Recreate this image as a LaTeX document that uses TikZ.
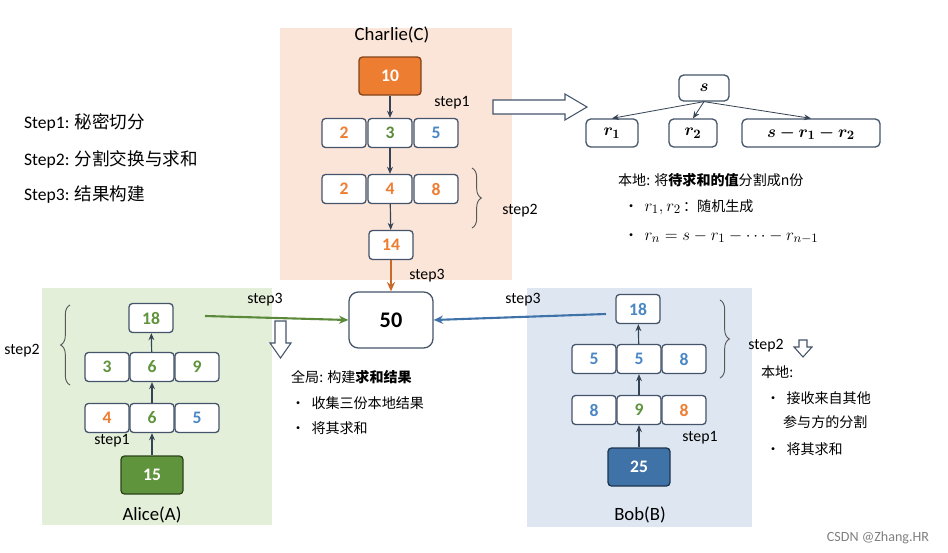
\documentclass[tikz,border=0pt]{standalone}
\usepackage{fontspec}
\usepackage{amsmath,bm}
\setmainfont{Carlito}
\newfontfamily\cjk{Noto Sans CJK SC}
\usetikzlibrary{arrows.meta,decorations.pathreplacing}
\definecolor{cor}{HTML}{ED7D31}
\definecolor{cgr}{HTML}{70AD47}
\definecolor{cbl}{HTML}{4A86C5}
\definecolor{bor}{HTML}{44546A}
\definecolor{bgo}{HTML}{FBE5D9}
\definecolor{bgg}{HTML}{E3EFD9}
\definecolor{bgb}{HTML}{DEE7F1}
\newcommand{\mbig}{\fontsize{15}{17}\selectfont}
\begin{document}
\begin{tikzpicture}[x=0.03cm,y=-0.03cm,
 bx/.style={draw=bor,line width=1.1pt,rounded corners=3pt,minimum width=44*0.03cm,minimum height=29*0.03cm,inner sep=0pt,font=\bfseries\fontsize{15}{15}\selectfont,fill=white},
 big/.style={bx,minimum width=62*0.03cm,minimum height=38*0.03cm,text=white},
 ar/.style={-{Stealth[length=6pt,width=5pt]},line width=1pt,bor!80!black},
 car/.style={-{Stealth[length=8pt,width=7pt]},line width=1.8pt},
 lb/.style={font=\fontsize{13.5}{15}\selectfont},
 zh/.style={font=\cjk\fontsize{12}{15}\selectfont,anchor=west},
 hol/.style={draw=bor,fill=white,line width=0.9pt},
 tb/.style={draw=bor,line width=1.1pt,rounded corners=4pt,minimum height=28*0.03cm,inner sep=0pt,fill=white,font=\mbig}]
\useasboundingbox (0,0) rectangle (948,552);
% backgrounds
\fill[bgo] (280,28) rectangle (512,280);
\fill[bgg] (42,288) rectangle (272,525);
\fill[bgb] (527,288) rectangle (752,527);
% left steps
\node[anchor=west,font=\fontsize{15}{17}\selectfont] (s1) at (20,122) {Step1: {\cjk 秘密切分}};
\node[anchor=west,font=\fontsize{15}{17}\selectfont] (s2) at (20,159) {Step2: {\cjk 分割交换与求和}};
\node[anchor=west,font=\fontsize{15}{17}\selectfont] (s3) at (20,195) {Step3: {\cjk 结果构建}};
% Charlie
\node[font=\fontsize{16}{18}\selectfont] (ct) at (392,35) {Charlie(C)};
\node[big,fill=cor,draw=cor!55!black] (c10) at (390,76) {10};
\node[bx,text=cor] (c1a) at (344,133) {2};
\node[bx,text=cgr!80!black] (c1b) at (390,133) {3};
\node[bx,text=cbl] (c1c) at (436,133) {5};
\node[bx,text=cor] (c2a) at (344,189) {2};
\node[bx,text=cor] (c2b) at (390,189) {4};
\node[bx,text=cor] (c2c) at (436,189) {8};
\node[bx,text=cor] (c14) at (391,245) {14};
\node[bx,text=black,minimum width=84*0.03cm,minimum height=56*0.03cm,rounded corners=8pt,font=\bfseries\fontsize{19}{19}\selectfont] (res) at (391,320) {50};
\draw[ar] (c10) -- (c1b);
\draw[ar] (c1b) -- (c2b);
\draw[ar] (c2b) -- (c14);
\draw[car,cor!85!black] (c14) -- (res);
\node[lb] (cs1) at (452,103) {step1};
\draw[decorate,decoration={brace,amplitude=8pt},line width=0.8pt,gray!70!black] (472,168) -- (472,228);
\node[lb] (cs2) at (520,211) {step2};
\node[lb] (cs3) at (427,276) {step3};
\draw[hol] (493,100) -- (565,100) -- (565,94) -- (587,107) -- (565,120) -- (565,114) -- (493,114) -- cycle;
% tree
\node[tb,minimum width=50*0.03cm,minimum height=26*0.03cm] (ts) at (704,88) {$\bm{s}$};
\node[tb,minimum width=52*0.03cm] (tr1) at (612,133) {$\bm{r_1}$};
\node[tb,minimum width=48*0.03cm] (tr2) at (693,133) {$\bm{r_2}$};
\node[tb,minimum width=138*0.03cm] (tr3) at (811,133) {$\bm{s-r_1-r_2}$};
\draw[ar,line width=0.7pt] (ts.south) -- (tr1.north);
\draw[ar,line width=0.7pt] (ts.south) -- (tr2.north);
\draw[ar,line width=0.7pt] (ts.south) -- (tr3.north);
\node[zh] (t1) at (614,180) {本地: 将\textbf{待求和的值}分割成n份};
\node[zh] (t2) at (620,207) {•\ \ {\mbig$r_1,r_2$}\,：随机生成};
\node[zh] (t3) at (620,237) {•\ \ {\mbig$r_n=s-r_1-\cdots-r_{n-1}$}};
% Alice
\node[font=\fontsize{16}{18}\selectfont] (at) at (152,515) {Alice(A)};
\node[bx,text=cgr!85!black] (a18) at (151,318) {18};
\node[bx,text=cgr!85!black] (a2a) at (107,367) {3};
\node[bx,text=cgr!85!black] (a2b) at (152,367) {6};
\node[bx,text=cgr!85!black] (a2c) at (197,367) {9};
\node[bx,text=cor] (a1a) at (107,418) {4};
\node[bx,text=cgr!85!black] (a1b) at (152,418) {6};
\node[bx,text=cbl] (a1c) at (197,418) {5};
\node[big,fill=cgr!85!black,draw=cgr!40!black] (a15) at (152,475) {15};
\draw[ar] (a15) -- (a1b);
\draw[ar] (a1b) -- (a2b);
\draw[ar] (a2b) -- (a18);
\node[lb] (as1) at (112,441) {step1};
\draw[decorate,decoration={brace,amplitude=8pt},line width=0.8pt,gray!70!black] (70,385) -- (70,305);
\node[lb] (as2) at (22,351) {step2};
\node[lb] (as3) at (265,300) {step3};
\draw[car,cgr!80!black] (205,316) -- (res.west);
\draw[hol] (275,321) -- (286,321) -- (286,343) -- (291,343) -- (280.5,358) -- (270,343) -- (275,343) -- cycle;
\node[zh] (g1) at (287,377) {全局: 构建\textbf{求和结果}};
\node[zh] (g2) at (287,403) {•\ \ 收集三份本地结果};
\node[zh] (g3) at (287,428) {•\ \ 将其求和};
% Bob
\node[font=\fontsize{16}{18}\selectfont] (bt) at (640,515) {Bob(B)};
\node[bx,text=cbl] (b18) at (638,309) {18};
\node[bx,text=cbl] (b2a) at (594,359) {5};
\node[bx,text=cbl] (b2b) at (639,359) {5};
\node[bx,text=cbl] (b2c) at (684,359) {8};
\node[bx,text=cbl] (b1a) at (594,410) {8};
\node[bx,text=cgr!85!black] (b1b) at (639,410) {9};
\node[bx,text=cor] (b1c) at (684,410) {8};
\node[big,fill=cbl!85!black,draw=cbl!40!black] (b25) at (639,467) {25};
\draw[ar] (b25) -- (b1b);
\draw[ar] (b1b) -- (b2b);
\draw[ar] (b2b) -- (b18);
\node[lb] (bs1) at (700,438) {step1};
\draw[decorate,decoration={brace,amplitude=8pt},line width=0.8pt,gray!70!black] (720,300) -- (720,378);
\node[lb] (bs2) at (766,346) {step2};
\draw[hol] (799,340) -- (807,340) -- (807,347) -- (812,347) -- (803,357) -- (794,347) -- (799,347) -- cycle;
\node[lb] (bs3) at (523,300) {step3};
\draw[car,cbl!85!black] (606,314) -- (res.east);
\node[zh] (m1) at (757,372) {本地:};
\node[zh] (m2) at (762,398) {•\ \ 接收来自其他};
\node[zh] (m3) at (779,422) {参与方的分割};
\node[zh] (m4) at (762,449) {•\ \ 将其求和};
\node[font=\fontsize{12}{14}\selectfont,text=gray] (wm) at (878,538) {CSDN @Zhang.HR};
\end{tikzpicture}
\end{document}
